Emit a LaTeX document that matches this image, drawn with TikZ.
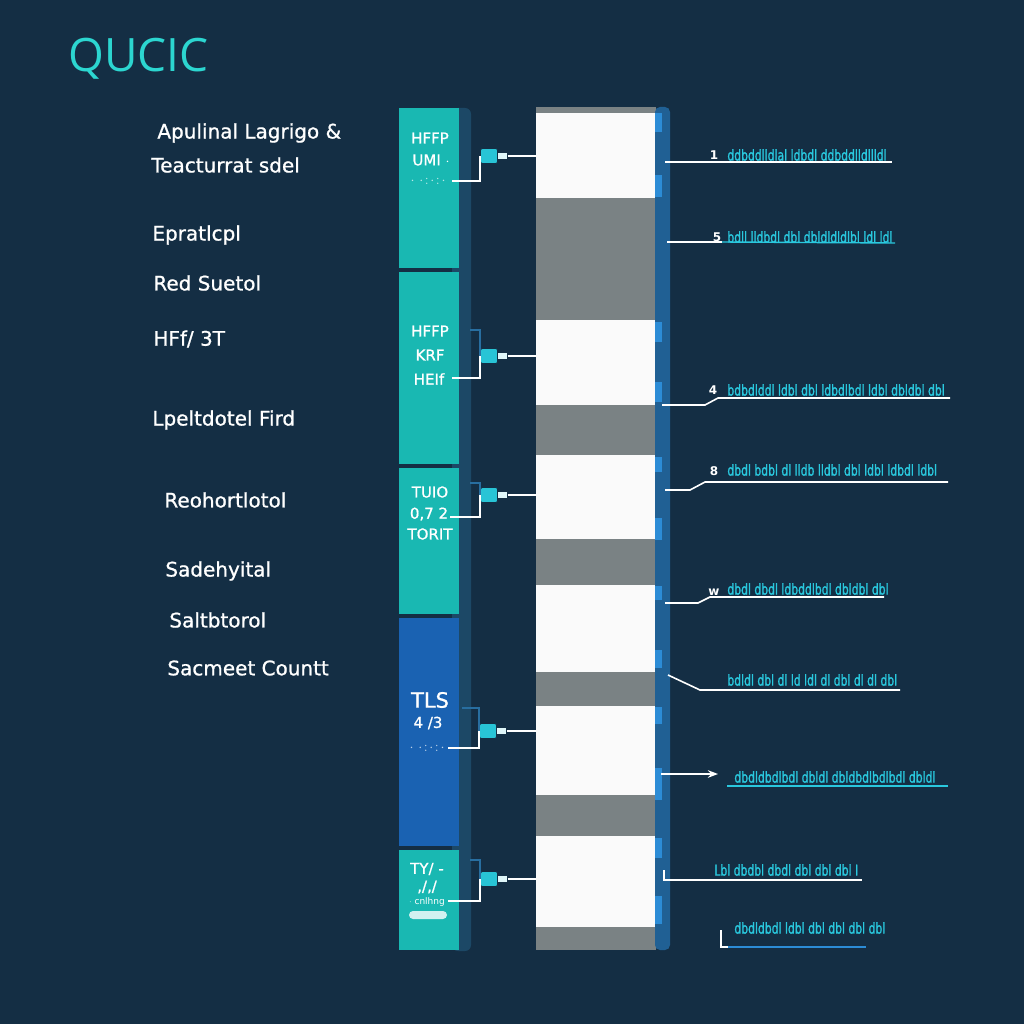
\documentclass[tikz,border=0pt]{standalone}
\usepackage{fontspec}
\setmainfont{DejaVu Sans}
\newfontfamily\titlefont{Open Sans}
\newfontfamily\labfont[FakeBold=0.9]{DejaVu Sans}
\newfontfamily\notefont[FakeStretch=0.72, FakeBold=1.2]{DejaVu Sans}
\usetikzlibrary{arrows.meta, positioning}
\definecolor{bgnavy}{RGB}{20,46,68}
\definecolor{barteal}{RGB}{25,184,178}
\definecolor{barblue}{RGB}{26,98,178}
\definecolor{sidedark}{RGB}{28,72,102}
\definecolor{midgray}{RGB}{122,130,132}
\definecolor{midwhite}{RGB}{250,250,250}
\definecolor{stripblue}{RGB}{32,96,148}
\definecolor{tabblue}{RGB}{44,140,214}
\definecolor{titlecyan}{RGB}{44,214,208}
\definecolor{notecyan}{RGB}{42,200,222}
\definecolor{plugcyan}{RGB}{40,196,214}
\definecolor{brkblue}{RGB}{40,110,160}

\begin{document}
\begin{tikzpicture}[x=1pt, y=-1pt, >=Stealth, thick]
        % Estilos
        \tikzstyle{seg} = [draw=none, rectangle, anchor=north west, inner sep=0pt, minimum width=60pt]
        \tikzstyle{mid} = [draw=none, rectangle, anchor=north west, inner sep=0pt, minimum width=120pt]
        \tikzstyle{bartext} = [text=white, inner sep=0pt, font=\labfont\fontsize{15}{15}\selectfont]
        \tikzstyle{label} = [text=white, anchor=west, inner sep=0pt, font=\labfont\fontsize{20}{20}\selectfont]
        \tikzstyle{note} = [text=notecyan, anchor=west, inner sep=0pt, font=\notefont\fontsize{15}{15}\selectfont]
        \tikzstyle{num} = [text=white, inner sep=0pt, font=\bfseries\fontsize{12}{12}\selectfont]
        \tikzstyle{plug} = [draw=bgnavy, fill=plugcyan, rectangle, rounded corners=2pt, minimum width=17pt, minimum height=15pt, inner sep=0pt, line width=0.8pt]
        \tikzstyle{pin} = [draw=none, fill=white!85!plugcyan, rectangle, minimum width=9pt, minimum height=6pt, inner sep=0pt]
        \tikzstyle{wire} = [draw=white, line width=1.6pt]
        \tikzstyle{callout} = [draw=white, line width=1.6pt]
        \tikzstyle{tab} = [fill=tabblue, draw=none]
        % Fondo
        \fill[bgnavy] (0,0) rectangle (1024,1024);
        \useasboundingbox (0,0) rectangle (1024,1024);
        % Titulo
        \node[text=titlecyan, anchor=west, inner sep=0pt, font=\titlefont\fontsize{46}{46}\selectfont] (title) at (68,59) {QUCIC};
        % Etiquetas de la izquierda
        \node[label] (lab1) at (157,133) {Apulinal Lagrigo \&};
        \node[label] (lab2) at (151,165) {Teacturrat sdel};
        \node[label] (lab3) at (152,235) {Epratlcpl};
        \node[label] (lab4) at (153,283) {Red Suetol};
        \node[label] (lab5) at (153,339) {HFf/ 3T};
        \node[label] (lab6) at (152,420) {Lpeltdotel Fird};
        \node[label] (lab7) at (164,500) {Reohortlotol};
        \node[label] (lab8) at (165,571) {Sadehyital};
        \node[label] (lab9) at (169,620) {Saltbtorol};
        \node[label] (lab10) at (167,668) {Sacmeet Countt};
        % Columna izquierda
        \fill[sidedark, rounded corners=6pt] (452,108) rectangle (471,951);
        \node[seg, fill=barteal, minimum height=160pt] (segA) at (399,108) {};
        \node[seg, fill=barteal, minimum height=192pt] (segB) at (399,272) {};
        \node[seg, fill=barteal, minimum height=146pt] (segC) at (399,468) {};
        \node[seg, fill=barblue, minimum height=228pt] (segD) at (399,618) {};
        \node[seg, fill=barteal, minimum height=100pt] (segE) at (399,850) {};
        % Textos de la columna
        \node[bartext] (tA1) at (430,138) {HFFP};
        \node[bartext] (tA2) at (431,160) {UMI $\cdot$};
        \node[bartext, text=white!70!barteal] (tA3) at (428,181) {$\cdot\ \cdot\!:\!\cdot\!:\!\cdot$};
        \node[bartext] (tB1) at (430,331) {HFFP};
        \node[bartext] (tB2) at (430,355) {KRF};
        \node[bartext] (tB3) at (429,379) {HEIf};
        \node[bartext] (tC1) at (430,492) {TUIO};
        \node[bartext] (tC2) at (429,514) {0,7 2};
        \node[bartext] (tC3) at (430,534) {TORIT};
        \node[bartext, font=\labfont\fontsize{21}{21}\selectfont] (tD1) at (430,700) {TLS};
        \node[bartext] (tD2) at (428,723) {4 /3};
        \node[bartext, text=white!70!barblue] (tD3) at (427,748) {$\cdot\ \cdot\!:\!\cdot\!:\!\cdot$};
        \node[bartext] (tE1) at (427,869) {TY/ -};
        \node[bartext] (tE2) at (427,887) {‚/‚/};
        \node[bartext, font=\fontsize{9}{9}\selectfont] (tE3) at (427,902) {$\cdot$ cnlhng};
        \node[fill=white!80!barteal, rounded corners=4pt, minimum width=38pt, minimum height=8pt, inner sep=0pt] (pillE) at (428,915) {};
        % Columna central
        \node[mid, fill=midgray, minimum height=843pt] (midcol) at (536,107) {};
        \node[mid, fill=midwhite, minimum height=85pt] (wA) at (536,113) {};
        \node[mid, fill=midwhite, minimum height=85pt] (wB) at (536,320) {};
        \node[mid, fill=midwhite, minimum height=84pt] (wC) at (536,455) {};
        \node[mid, fill=midwhite, minimum height=87pt] (wD) at (536,585) {};
        \node[mid, fill=midwhite, minimum height=89pt] (wE) at (536,706) {};
        \node[mid, fill=midwhite, minimum height=91pt] (wF) at (536,836) {};
        % Franja derecha
        \fill[stripblue, rounded corners=5pt] (655,107) rectangle (670,950);
        \foreach \ya/\yb in {113/132, 175/197, 322/342, 382/402, 457/472, 518/540, 586/600, 650/668, 707/724, 768/800, 838/858, 896/924}
            \fill[tab] (655,\ya) rectangle (662,\yb);
        % Conectores de la izquierda
        \node[plug] (plugA) at (489,156) {};
        \node[pin, right=0pt of plugA] (pinA) {};
        \coordinate (tapA) at (452,181);
        \draw[wire] (tapA) -| (plugA.west);
        \draw[wire] (pinA.east) -- (pinA.east -| wA.west);
        \node[plug] (plugB) at (489,356) {};
        \node[pin, right=0pt of plugB] (pinB) {};
        \coordinate (topB) at (470,330);
        \coordinate (tapB) at (452,378);
        \draw[draw=brkblue, line width=1.4pt] (topB) -| (plugB.west);
        \draw[wire] (tapB) -| (plugB.west);
        \draw[wire] (pinB.east) -- (pinB.east -| wB.west);
        \node[plug] (plugC) at (489,495) {};
        \node[pin, right=0pt of plugC] (pinC) {};
        \coordinate (topC) at (470,483);
        \coordinate (tapC) at (450,517);
        \draw[draw=brkblue, line width=1.4pt] (topC) -| (plugC.west);
        \draw[wire] (tapC) -| (plugC.west);
        \draw[wire] (pinC.east) -- (pinC.east -| wC.west);
        \node[plug] (plugD) at (488,731) {};
        \node[pin, right=0pt of plugD] (pinD) {};
        \coordinate (topD) at (462,708);
        \coordinate (tapD) at (448,748);
        \draw[draw=brkblue, line width=1.4pt] (topD) -| (plugD.west);
        \draw[wire] (tapD) -| (plugD.west);
        \draw[wire] (pinD.east) -- (pinD.east -| wE.west);
        \node[plug] (plugE) at (489,879) {};
        \node[pin, right=0pt of plugE] (pinE) {};
        \coordinate (topE) at (470,860);
        \coordinate (tapE) at (448,901);
        \draw[draw=brkblue, line width=1.4pt] (topE) -| (plugE.west);
        \draw[wire] (tapE) -| (plugE.west);
        \draw[wire] (pinE.east) -- (pinE.east -| wF.west);
        % Notas de la derecha
        \coordinate (rA) at (665,162);
        \coordinate (eA) at (892,162);
        \node[num] (nA) at (714,155) {1};
        \node[note] (tA) at (727,155) {ddbddlldlal ldbdl ddbddlldllldl};
        \draw[callout] (rA) -- (eA);
        \coordinate (rB) at (667,242);
        \coordinate (kB) at (722,242);
        \coordinate (eB) at (895,243);
        \node[num] (nB) at (717,237) {5};
        \node[note] (tB) at (727,237) {bdll lldbdl dbl dbldldldlbl ldl ldl};
        \draw[callout] (rB) -- (kB);
        \draw[notecyan, line width=1.4pt] (kB) -- (eB);
        \coordinate (rC) at (662,405);
        \coordinate (kC) at (705,405);
        \coordinate (eC) at (950,398);
        \node[num] (nC) at (713,390) {4};
        \node[note] (tC) at (727,390) {bdbdlddl ldbl dbl ldbdlbdl ldbl dbldbl dbl};
        \draw[callout] (rC) -- (kC) -- (718,398) -- (eC);
        \coordinate (rD) at (665,490);
        \coordinate (kD) at (690,490);
        \coordinate (eD) at (948,482);
        \node[num] (nD) at (714,471) {8};
        \node[note] (tD) at (727,470) {dbdl bdbl dl lldb lldbl dbl ldbl ldbdl ldbl};
        \draw[callout] (rD) -- (kD) -- (705,482) -- (eD);
        \coordinate (rE) at (665,603);
        \coordinate (kE) at (698,603);
        \coordinate (eE) at (884,597);
        \node[num] (nE) at (714,592) {w};
        \node[note] (tE) at (727,589) {dbdl dbdl ldbddlbdl dbldbl dbl};
        \draw[callout] (rE) -- (kE) -- (710,597) -- (eE);
        \coordinate (rF) at (668,675);
        \coordinate (kF) at (700,690);
        \coordinate (eF) at (900,690);
        \node[note] (tF) at (727,680) {bdldl dbl dl ld ldl dl dbl dl dl dbl};
        \draw[callout] (rF) -- (kF) -- (eF);
        \coordinate (rG) at (661,774);
        \coordinate (kG) at (718,774);
        \node[note] (tG) at (734,777) {dbdldbdlbdl dbldl dbldbdlbdlbdl dbldl};
        \draw[callout, ->] (rG) -- (kG);
        \draw[notecyan, line width=1.4pt] (727,786) -- (948,786);
        \coordinate (rH) at (664,880);
        \coordinate (eH) at (862,880);
        \node[note] (tH) at (714,870) {Lbl dbdbl dbdl dbl dbl dbl I};
        \draw[callout] (664,870) -- (rH) -- (eH);
        \coordinate (rI) at (721,930);
        \coordinate (kI) at (721,947);
        \coordinate (eI) at (866,947);
        \node[note] (tI) at (734,928) {dbdldbdl ldbl dbl dbl dbl dbl};
        \draw[callout] (rI) -- (kI) -- (728,947);
        \draw[tabblue, line width=2.4pt] (728,947) -- (eI);

\end{tikzpicture}
\end{document}
